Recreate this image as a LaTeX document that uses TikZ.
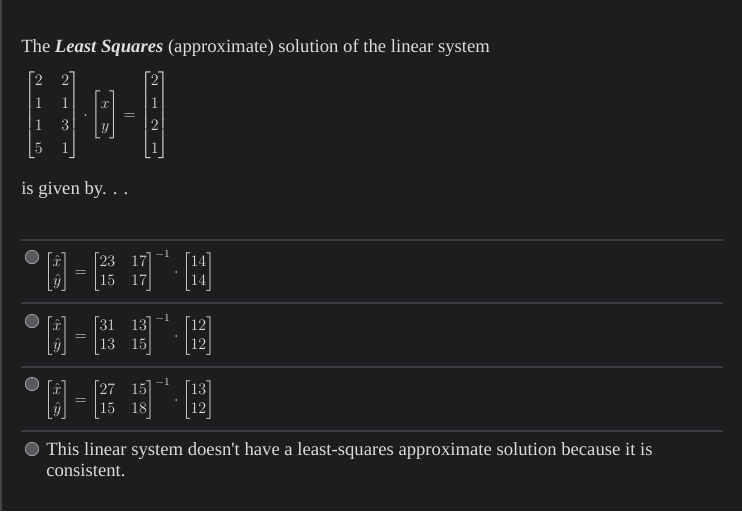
\documentclass[tikz,border=0pt]{standalone}
\usepackage{amsmath}
\usepackage{fontspec}
\setmainfont{Liberation Serif}
\definecolor{bg}{HTML}{1C1D1F}
\definecolor{fg}{HTML}{DCDCDC}
\definecolor{sep}{HTML}{3C3D40}
\definecolor{radio}{HTML}{58595C}
\begin{document}
\begin{tikzpicture}[x=0.75pt,y=-0.75pt,
  txt/.style={inner sep=0pt,anchor=base west,text=fg,font=\fontsize{14}{16}\selectfont},
  mat/.style={inner sep=0pt,anchor=west,text=fg,font=\fontsize{12}{14}\selectfont},
  seprule/.style={draw=sep,line width=0.8pt},
  radiob/.style={circle,fill=radio,draw=gray!60,line width=0.5pt,minimum size=10pt,inner sep=0pt}]
\fill[bg] (0,0) rectangle (742,511);
\fill[gray!40!bg] (0,0) rectangle (2,511);
\node[txt] (title) at (21,52) {The \textbf{\textit{Least Squares}} (approximate) solution of the linear system};
\node[mat] (sys) at (24,115) {$\setlength{\arraycolsep}{7pt}\renewcommand{\arraystretch}{1.2}\begin{bmatrix}2&2\\1&1\\1&3\\5&1\end{bmatrix}\cdot\begin{bmatrix}x\\y\end{bmatrix}=\begin{bmatrix}2\\1\\2\\1\end{bmatrix}$};
\node[txt] (given) at (21,194) {is given by. . .};
\foreach \y/\n in {240/a,303/b,367/c,431/d}{
  \coordinate (l\n) at (21,\y); \coordinate (r\n) at (723,\y);
  \draw[seprule] (l\n) -- (r\n);}
\node[radiob] (ra) at (32,257) {};
\node[mat] (oa) at (44,271) {$\setlength{\arraycolsep}{6pt}\begin{bmatrix}\hat{x}\\\hat{y}\end{bmatrix}=\begin{bmatrix}23&17\\15&17\end{bmatrix}^{-1}\cdot\begin{bmatrix}14\\14\end{bmatrix}$};
\node[radiob] (rb) at (32,321) {};
\node[mat] (ob) at (44,335) {$\setlength{\arraycolsep}{6pt}\begin{bmatrix}\hat{x}\\\hat{y}\end{bmatrix}=\begin{bmatrix}31&13\\13&15\end{bmatrix}^{-1}\cdot\begin{bmatrix}12\\12\end{bmatrix}$};
\node[radiob] (rc) at (32,384) {};
\node[mat] (oc) at (44,399) {$\setlength{\arraycolsep}{6pt}\begin{bmatrix}\hat{x}\\\hat{y}\end{bmatrix}=\begin{bmatrix}27&15\\15&18\end{bmatrix}^{-1}\cdot\begin{bmatrix}13\\12\end{bmatrix}$};
\node[radiob] (rd) at (32,449) {};
\node[txt] (od) at (46,455) {This linear system doesn\textquotesingle t have a least-squares approximate solution because it is};
\node[txt] (od2) at (46,476) {consistent.};
\end{tikzpicture}
\end{document}
